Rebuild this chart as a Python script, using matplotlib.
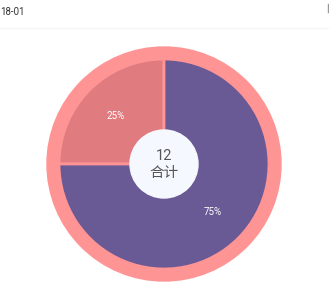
import matplotlib.pyplot as plt
from matplotlib.patches import Circle

plt.rcParams['font.family'] = ['Roboto', 'Noto Sans CJK SC', 'DejaVu Sans']

# data
labels = ['A', 'B']
values = [3, 9]
colors = ['#E07B7F', '#695A96']
total_label = '合计'
date_label = '18-01'

W, H = 329, 303
fig = plt.figure(figsize=(W / 100, H / 100), dpi=100)
ax = fig.add_axes([0, 0, 1, 1])

cx, cy = 164, H - 164

# outer ring
ax.add_patch(Circle((cx, cy), 117, color='#FF9494', zorder=1))

wedges, texts, autotexts = ax.pie(
    values, colors=colors, startangle=90, counterclock=True,
    center=(cx, cy), radius=105, autopct='%.0f%%', pctdistance=0.65,
    wedgeprops=dict(edgecolor='#FF9494', linewidth=2),
    textprops=dict(color='white', fontsize=7), frame=True)
for w in wedges:
    w.set_zorder(2)
for t in autotexts:
    t.set_zorder(4)

ax.set_xlim(0, W)
ax.set_ylim(0, H)
ax.set_aspect('equal')
ax.axis('off')

# center hole
ax.add_patch(Circle((cx, cy), 34, color='#F5F9FF', zorder=3))
ax.text(cx, cy + 8, str(sum(values)), ha='center', va='center',
        fontsize=10.5, color='#555555', zorder=5)
ax.text(cx, cy - 9, total_label, ha='center', va='center',
        fontsize=10.5, color='#555555', zorder=5)

# header
ax.text(0, H - 12, date_label, ha='left', va='center', fontsize=7, color='#333333')
ax.plot([0, W], [H - 27.5, H - 27.5], color='#F5F5F5', lw=0.8)
ax.plot([328, 328], [H - 4, H - 12], color='#999999', lw=1)

fig.savefig('out.png', dpi=100, facecolor='white')
